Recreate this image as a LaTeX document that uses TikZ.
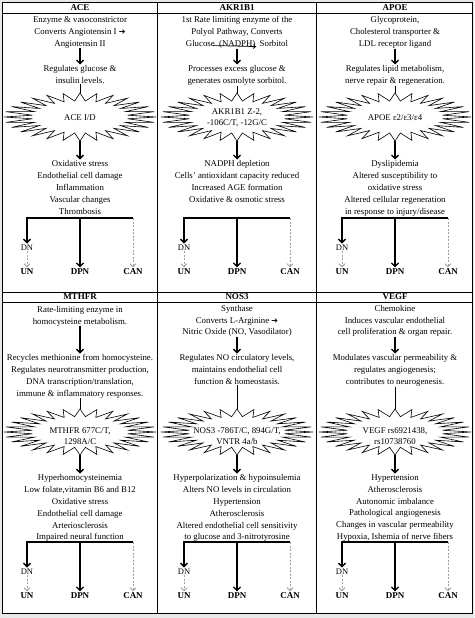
\documentclass[tikz,border=0pt]{standalone}
\usepackage{fontspec}
\setmainfont{Liberation Serif}
\newfontfamily\dvs{DejaVu Sans}
\newcommand{\heavyarr}{{\dvs\fontsize{8}{9}\selectfont ➔}}
\usetikzlibrary{arrows.meta,calc}
\newcommand{\zburst}[4]{%
  \coordinate (#1) at (#2,#3);
  \coordinate (#1-t) at (#2,#3-#4);
  \coordinate (#1-b) at (#2,#3+#4);
  \begin{scope}[shift={(#2,#3)}]
    \pgfmathsetmacro\ib{#4*0.67}
    \draw[burst] (76,0) \foreach \k [evaluate=\k as \px using {(76-28*mod(\k,2))*cos(6.428571*\k)},
      evaluate=\k as \py using {(#4-(#4-\ib)*mod(\k,2))*sin(6.428571*\k)}] in {1,...,55} { -- (\px,\py) } -- cycle;
  \end{scope}}
\newcommand{\branch}[3]{%
  \coordinate (bl#1) at (#2-53,#3);
  \coordinate (bm#1) at (#2,#3);
  \coordinate (br#1) at (#2+53,#3);
  \node[dnl] (dn#1) at (#2-53,#3+30) {DN};
  \node[lbl] (un#1) at (#2-53,#3+54) {UN};
  \node[lbl] (dpn#1) at (#2,#3+54) {DPN};
  \node[lbl] (can#1) at (#2+53,#3+54) {CAN};
  \draw[blk] (br#1) -- (bl#1) -- (dn#1.north);
  \draw[blk] (bm#1) -- (dpn#1.north);
  \draw[gry] (br#1) -- (can#1.north);
  \draw[gry] (dn#1.south) -- (un#1.north);
}
\begin{document}
\begin{tikzpicture}[x=1pt,y=-1pt,
  txt/.style={font=\fontsize{8.8}{11.8}\selectfont, align=center, inner sep=0pt, anchor=north},
  gtxt/.style={font=\fontsize{8.8}{11}\selectfont, align=center, inner sep=0pt},
  hdr/.style={font=\fontsize{9}{11}\selectfont\bfseries, inner sep=0pt},
  lbl/.style={font=\fontsize{9}{11}\selectfont\bfseries, inner sep=0.5pt},
  dnl/.style={font=\fontsize{8.5}{10}\selectfont, inner sep=0.5pt},
  grid/.style={line width=0.8pt},
  blk/.style={line width=1.3pt, shorten >=1pt, -{Straight Barb[length=3.5pt,width=7pt]}},
  gry/.style={line width=0.9pt, draw=gray!75, dash pattern=on 2pt off 1.5pt, shorten >=1pt, -{Straight Barb[length=3pt,width=6pt]}},
  stem/.style={line width=1pt},
  burst/.style={line width=0.6pt, fill=white},
]
\useasboundingbox (0,0) rectangle (474,618);
\fill[gray!18] (0,0) rectangle (474,618);
\fill[white] (2,2) rectangle (472,613);
% table grid
\draw[grid] (2,2) rectangle (472,613);
\draw[grid] (157.5,2) -- (157.5,613) (316.5,2) -- (316.5,613);
\draw[grid] (2,13) -- (472,13) (2,292) -- (472,292) (2,302) -- (472,302);

% ---------------- Row 1 ----------------
\node[hdr] (ha) at (80,8) {ACE};
\node[hdr] (hb) at (237,8) {AKR1B1};
\node[hdr] (hc) at (395,8) {APOE};

% ACE
\node[txt] (t1a) at (80,16.5) {Enzyme \& vasoconstrictor\\Converts Angiotensin I \heavyarr\\Angiotensin II};
\node[txt] (t2a) at (80,65.5) {Regulates glucose \&\\insulin levels.};
\zburst{ga}{80}{117}{24}
\node[gtxt] (gna) at (80,117.5) {ACE I/D};
\node[txt] (t3a) at (80,160.5) {Oxidative stress\\Endothelial cell damage\\Inflammation\\Vascular changes\\Thrombosis};
\draw[blk] (t1a.south) -- (t2a.north);
\draw[stem] (t2a.south) -- (ga-t);
\draw[blk] (ga-b) -- (t3a.north);
\branch{a}{80}{218}

% AKR1B1
\node[txt] (t1b) at (237,16.5) {1st Rate limiting enzyme of the\\Polyol Pathway, Converts\\Glucose\ \ (NADPH)\ \ Sorbitol};
\draw[line width=0.7pt, -{Straight Barb[length=2pt,width=4pt]}] ($(t1b.south)+(-24,-3)$) -- ($(t1b.south)+(19,-2)$);
\node[txt] (t2b) at (237,65.5) {Processes excess glucose \&\\generates osmolyte sorbitol.};
\zburst{gb}{237}{117}{24}
\node[gtxt] (gnb) at (237,117.5) {AKR1B1 Z-2,\\-106C/T, -12G/C};
\node[txt] (t3b) at (237,160.5) {NADPH depletion\\Cells' antioxidant capacity reduced\\Increased AGE formation\\Oxidative \& osmotic stress};
\draw[blk] (t1b.south) -- (t2b.north);
\draw[stem] (t2b.south) -- (gb-t);
\draw[blk] (gb-b) -- (t3b.north);
\branch{b}{237}{218}

% APOE
\node[txt] (t1c) at (395,16.5) {Glycoprotein,\\Cholesterol transporter \&\\LDL receptor ligand};
\node[txt] (t2c) at (395,65.5) {Regulates lipid metabolism,\\nerve repair \& regeneration.};
\zburst{gc}{395}{117}{24}
\node[gtxt] (gnc) at (395,117.5) {APOE ε2/ε3/ε4};
\node[txt] (t3c) at (395,160.5) {Dyslipidemia\\Altered susceptibility to\\oxidative stress\\Altered cellular regeneration\\in response to injury/disease};
\draw[blk] (t1c.south) -- (t2c.north);
\draw[stem] (t2c.south) -- (gc-t);
\draw[blk] (gc-b) -- (t3c.north);
\branch{c}{395}{218}

% ---------------- Row 2 ----------------
\node[hdr] (hd) at (80,297) {MTHFR};
\node[hdr] (he) at (237,297) {NOS3};
\node[hdr] (hf) at (395,297) {VEGF};

% MTHFR
\node[txt] (t1d) at (80,306) {Rate-limiting enzyme in\\homocysteine metabolism.};
\node[txt] (t2d) at (80,354.5) {Recycles methionine from homocysteine.\\Regulates neurotransmitter production,\\DNA transcription/translation,\\immune \& inflammatory responses.};
\zburst{gd}{80}{432}{23}
\node[gtxt] (gnd) at (80,436.5) {MTHFR 677C/T,\\1298A/C};
\node[txt] (t3d) at (80,474.5) {Hyperhomocysteinemia\\Low folate,vitamin B6 and B12\\Oxidative stress\\Endothelial cell damage\\Arteriosclerosis\\Impaired neural function};
\draw[blk] (t1d.south) -- (t2d.north);
\draw[stem] (t2d.south) -- (gd-t);
\draw[blk] (gd-b) -- (t3d.north);
\branch{d}{80}{542}

% NOS3
\node[txt] (t1e) at (237,305) {Synthase\\Converts L-Arginine \heavyarr\\Nitric Oxide (NO, Vasodilator)};
\node[txt] (t2e) at (237,354.5) {Regulates NO circulatory levels,\\maintains endothelial cell\\function \& homeostasis.};
\zburst{ge}{237}{432}{23}
\node[gtxt] (gne) at (237,436.5) {NOS3 -786T/C, 894G/T,\\VNTR 4a/b};
\node[txt] (t3e) at (237,474.5) {Hyperpolarization \& hypoinsulemia\\Alters NO levels in circulation\\Hypertension\\Atherosclerosis\\Altered endothelial cell sensitivity\\to glucose and 3-nitrotyrosine};
\draw[blk] (t1e.south) -- (t2e.north);
\draw[stem] (t2e.south) -- (ge-t);
\draw[blk] (ge-b) -- (t3e.north);
\branch{e}{237}{542}

% VEGF
\node[txt] (t1f) at (395,305) {Chemokine\\Induces vascular endothelial\\cell proliferation \& organ repair.};
\node[txt] (t2f) at (395,354.5) {Modulates vascular permeability \&\\regulates angiogenesis;\\contributes to neurogenesis.};
\zburst{gf}{395}{432}{23}
\node[gtxt] (gnf) at (395,436.5) {VEGF rs6921438,\\rs10738760};
\node[txt] (t3f) at (395,474.5) {Hypertension\\Atherosclerosis\\Autonomic imbalance\\Pathological angiogenesis\\Changes in vascular permeability\\Hypoxia, Ishemia of nerve fibers};
\draw[blk] (t1f.south) -- (t2f.north);
\draw[stem] (t2f.south) -- (gf-t);
\draw[blk] (gf-b) -- (t3f.north);
\branch{f}{395}{542}
\end{tikzpicture}
\end{document}
